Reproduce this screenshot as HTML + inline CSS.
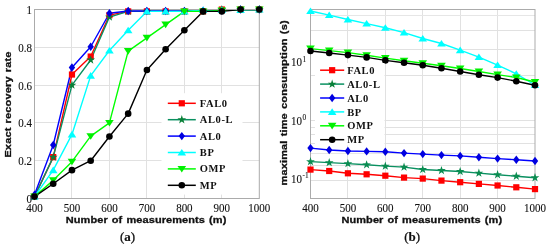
<!DOCTYPE html>
<html><head><meta charset="utf-8"><title>figure</title>
<style>
html,body{margin:0;padding:0;background:#fff}
svg{display:block}
.tk{font-family:"Liberation Serif",serif;font-size:12.8px;fill:#111;stroke:#111;stroke-width:0.12px}
.lg{font-family:"Liberation Serif",serif;font-weight:bold;font-size:10.5px;fill:#111;letter-spacing:0.6px}
.al{font-family:"Liberation Sans",sans-serif;font-weight:bold;font-size:9.7px;fill:#111;stroke:#111;stroke-width:0.3px;letter-spacing:0.14px;word-spacing:0.8px}
.cap{font-family:"Liberation Serif",serif;font-size:13px;fill:#111;stroke:#111;stroke-width:0.3px}
.capb{font-weight:bold;stroke-width:0.15px}
</style></head><body>
<svg width="550" height="249" viewBox="0 0 550 249">
<rect width="550" height="249" fill="#fff"/>
<defs><clipPath id="ca"><rect x="34.5" y="9.5" width="224.80" height="189.0"/></clipPath><clipPath id="cb"><rect x="310.5" y="9.5" width="224.50" height="189.0"/></clipPath></defs>
<line x1="71.50" y1="9.5" x2="71.50" y2="198.5" stroke="#e1e1e1" stroke-width="1"/>
<line x1="109.50" y1="9.5" x2="109.50" y2="198.5" stroke="#e1e1e1" stroke-width="1"/>
<line x1="146.50" y1="9.5" x2="146.50" y2="198.5" stroke="#e1e1e1" stroke-width="1"/>
<line x1="184.50" y1="9.5" x2="184.50" y2="198.5" stroke="#e1e1e1" stroke-width="1"/>
<line x1="221.50" y1="9.5" x2="221.50" y2="198.5" stroke="#e1e1e1" stroke-width="1"/>
<line x1="34.5" y1="160.50" x2="259.3" y2="160.50" stroke="#e1e1e1" stroke-width="1"/>
<line x1="34.5" y1="122.50" x2="259.3" y2="122.50" stroke="#e1e1e1" stroke-width="1"/>
<line x1="34.5" y1="85.50" x2="259.3" y2="85.50" stroke="#e1e1e1" stroke-width="1"/>
<line x1="34.5" y1="47.50" x2="259.3" y2="47.50" stroke="#e1e1e1" stroke-width="1"/>
<line x1="347.50" y1="9.5" x2="347.50" y2="198.5" stroke="#e1e1e1" stroke-width="1"/>
<line x1="385.50" y1="9.5" x2="385.50" y2="198.5" stroke="#e1e1e1" stroke-width="1"/>
<line x1="422.50" y1="9.5" x2="422.50" y2="198.5" stroke="#e1e1e1" stroke-width="1"/>
<line x1="460.50" y1="9.5" x2="460.50" y2="198.5" stroke="#e1e1e1" stroke-width="1"/>
<line x1="497.50" y1="9.5" x2="497.50" y2="198.5" stroke="#e1e1e1" stroke-width="1"/>
<line x1="310.5" y1="15.50" x2="535.0" y2="15.50" stroke="#e6e6e6" stroke-width="1"/>
<line x1="310.5" y1="30.50" x2="535.0" y2="30.50" stroke="#e1e1e1" stroke-width="1"/>
<line x1="310.5" y1="49.50" x2="535.0" y2="49.50" stroke="#e1e1e1" stroke-width="1"/>
<line x1="310.5" y1="75.50" x2="535.0" y2="75.50" stroke="#e1e1e1" stroke-width="1"/>
<line x1="310.5" y1="120.50" x2="535.0" y2="120.50" stroke="#e1e1e1" stroke-width="1"/>
<line x1="310.5" y1="127.50" x2="535.0" y2="127.50" stroke="#e1e1e1" stroke-width="1"/>
<line x1="310.5" y1="134.50" x2="535.0" y2="134.50" stroke="#e1e1e1" stroke-width="1"/>
<line x1="310.5" y1="143.50" x2="535.0" y2="143.50" stroke="#e1e1e1" stroke-width="1"/>
<line x1="310.5" y1="153.50" x2="535.0" y2="153.50" stroke="#e6e6e6" stroke-width="1"/>
<line x1="310.5" y1="165.50" x2="535.0" y2="165.50" stroke="#e1e1e1" stroke-width="1"/>
<line x1="310.5" y1="180.50" x2="535.0" y2="180.50" stroke="#e1e1e1" stroke-width="1"/>
<polyline points="34.50,196.61 53.23,157.11 71.97,74.52 90.70,56.56 109.43,15.17 128.17,11.39 146.90,11.39 165.63,11.39 184.37,11.39 203.10,11.39 221.83,9.50 240.57,9.50 259.30,9.50" fill="none" stroke="#ff0000" stroke-width="1.4" stroke-linejoin="round" clip-path="url(#ca)"/>
<polyline points="34.50,196.61 53.23,157.11 71.97,85.10 90.70,59.96 109.43,17.06 128.17,11.39 146.90,11.39 165.63,11.39 184.37,11.39 203.10,11.39 221.83,9.50 240.57,9.50 259.30,9.50" fill="none" stroke="#0a9060" stroke-width="1.4" stroke-linejoin="round" clip-path="url(#ca)"/>
<polyline points="34.50,194.72 53.23,145.01 71.97,67.52 90.70,46.73 109.43,13.28 128.17,11.01 146.90,11.01 165.63,11.01 184.37,11.01 203.10,10.82 221.83,10.63 240.57,9.50 259.30,9.50" fill="none" stroke="#0000ff" stroke-width="1.4" stroke-linejoin="round" clip-path="url(#ca)"/>
<polyline points="34.50,196.61 53.23,170.15 71.97,134.43 90.70,75.65 109.43,50.51 128.17,30.29 146.90,11.39 165.63,11.39 184.37,11.39 203.10,10.07 221.83,10.07 240.57,10.07 259.30,9.50" fill="none" stroke="#00ffff" stroke-width="1.4" stroke-linejoin="round" clip-path="url(#ca)"/>
<polyline points="34.50,196.61 53.23,180.36 71.97,161.64 90.70,136.13 109.43,122.90 128.17,51.08 146.90,37.85 165.63,24.62 184.37,11.39 203.10,11.39 221.83,10.44 240.57,9.50 259.30,9.50" fill="none" stroke="#00ff00" stroke-width="1.4" stroke-linejoin="round" clip-path="url(#ca)"/>
<polyline points="34.50,196.61 53.23,183.76 71.97,170.15 90.70,160.70 109.43,136.51 128.17,113.64 146.90,69.98 165.63,49.19 184.37,30.29 203.10,11.39 221.83,11.39 240.57,9.50 259.30,9.50" fill="none" stroke="#000000" stroke-width="1.4" stroke-linejoin="round" clip-path="url(#ca)"/>
<polyline points="310.50,169.60 329.21,171.00 347.92,173.30 366.62,174.30 385.33,175.70 404.04,177.60 422.75,178.60 441.46,180.60 460.17,182.20 478.88,183.90 497.58,185.50 516.29,187.30 535.00,189.10" fill="none" stroke="#ff0000" stroke-width="1.4" stroke-linejoin="round" clip-path="url(#cb)"/>
<polyline points="310.50,161.60 329.21,162.60 347.92,163.60 366.62,164.80 385.33,166.10 404.04,167.10 422.75,169.50 441.46,170.50 460.17,171.50 478.88,173.10 497.58,174.70 516.29,176.20 535.00,177.70" fill="none" stroke="#0a9060" stroke-width="1.4" stroke-linejoin="round" clip-path="url(#cb)"/>
<polyline points="310.50,148.10 329.21,150.00 347.92,151.00 366.62,151.40 385.33,151.80 404.04,153.10 422.75,154.10 441.46,155.10 460.17,155.90 478.88,157.30 497.58,158.60 516.29,159.80 535.00,161.00" fill="none" stroke="#0000ff" stroke-width="1.4" stroke-linejoin="round" clip-path="url(#cb)"/>
<polyline points="310.50,11.00 329.21,15.10 347.92,19.50 366.62,23.60 385.33,27.80 404.04,32.60 422.75,38.50 441.46,43.50 460.17,50.20 478.88,57.10 497.58,65.10 516.29,73.80 535.00,85.00" fill="none" stroke="#00ffff" stroke-width="1.4" stroke-linejoin="round" clip-path="url(#cb)"/>
<polyline points="310.50,48.60 329.21,50.60 347.92,52.60 366.62,55.20 385.33,58.10 404.04,60.70 422.75,63.30 441.46,65.80 460.17,68.50 478.88,71.50 497.58,74.60 516.29,77.50 535.00,82.00" fill="none" stroke="#00ff00" stroke-width="1.4" stroke-linejoin="round" clip-path="url(#cb)"/>
<polyline points="310.50,51.00 329.21,53.00 347.92,55.10 366.62,57.40 385.33,60.40 404.04,62.80 422.75,65.20 441.46,68.20 460.17,71.50 478.88,74.70 497.58,77.60 516.29,81.20 535.00,85.20" fill="none" stroke="#000000" stroke-width="1.4" stroke-linejoin="round" clip-path="url(#cb)"/>
<rect x="34.5" y="9.5" width="224.80" height="189.0" fill="none" stroke="#ababab" stroke-width="1"/>
<rect x="310.5" y="9.5" width="224.50" height="189.0" fill="none" stroke="#ababab" stroke-width="1"/>
<rect x="31.40" y="193.51" width="6.2" height="6.2" fill="#ff0000"/>
<rect x="50.13" y="154.01" width="6.2" height="6.2" fill="#ff0000"/>
<rect x="68.87" y="71.42" width="6.2" height="6.2" fill="#ff0000"/>
<rect x="87.60" y="53.46" width="6.2" height="6.2" fill="#ff0000"/>
<rect x="106.33" y="12.07" width="6.2" height="6.2" fill="#ff0000"/>
<rect x="125.07" y="8.29" width="6.2" height="6.2" fill="#ff0000"/>
<rect x="143.80" y="8.29" width="6.2" height="6.2" fill="#ff0000"/>
<rect x="162.53" y="8.29" width="6.2" height="6.2" fill="#ff0000"/>
<rect x="181.27" y="8.29" width="6.2" height="6.2" fill="#ff0000"/>
<rect x="200.00" y="8.29" width="6.2" height="6.2" fill="#ff0000"/>
<rect x="218.73" y="6.40" width="6.2" height="6.2" fill="#ff0000"/>
<rect x="237.47" y="6.40" width="6.2" height="6.2" fill="#ff0000"/>
<rect x="256.20" y="6.40" width="6.2" height="6.2" fill="#ff0000"/>
<path d="M34.50 192.01L35.56 195.15L38.87 195.19L36.21 197.17L37.20 200.33L34.50 198.41L31.80 200.33L32.79 197.17L30.13 195.19L33.44 195.15Z" fill="#0a8038"/>
<path d="M53.23 152.51L54.29 155.65L57.61 155.69L54.95 157.67L55.94 160.83L53.23 158.91L50.53 160.83L51.52 157.67L48.86 155.69L52.18 155.65Z" fill="#0a8038"/>
<path d="M71.97 80.50L73.02 83.64L76.34 83.68L73.68 85.66L74.67 88.82L71.97 86.90L69.26 88.82L70.25 85.66L67.59 83.68L70.91 83.64Z" fill="#0a8038"/>
<path d="M90.70 55.36L91.76 58.51L95.07 58.54L92.41 60.52L93.40 63.68L90.70 61.76L88.00 63.68L88.99 60.52L86.33 58.54L89.64 58.51Z" fill="#0a8038"/>
<path d="M109.43 12.46L110.49 15.60L113.81 15.64L111.15 17.62L112.14 20.78L109.43 18.86L106.73 20.78L107.72 17.62L105.06 15.64L108.38 15.60Z" fill="#0a8038"/>
<path d="M128.17 6.79L129.22 9.93L132.54 9.97L129.88 11.95L130.87 15.11L128.17 13.19L125.46 15.11L126.45 11.95L123.79 9.97L127.11 9.93Z" fill="#0a8038"/>
<path d="M146.90 6.79L147.96 9.93L151.27 9.97L148.61 11.95L149.60 15.11L146.90 13.19L144.20 15.11L145.19 11.95L142.53 9.97L145.84 9.93Z" fill="#0a8038"/>
<path d="M165.63 6.79L166.69 9.93L170.01 9.97L167.35 11.95L168.34 15.11L165.63 13.19L162.93 15.11L163.92 11.95L161.26 9.97L164.58 9.93Z" fill="#0a8038"/>
<path d="M184.37 6.79L185.42 9.93L188.74 9.97L186.08 11.95L187.07 15.11L184.37 13.19L181.66 15.11L182.65 11.95L179.99 9.97L183.31 9.93Z" fill="#0a8038"/>
<path d="M203.10 6.79L204.16 9.93L207.47 9.97L204.81 11.95L205.80 15.11L203.10 13.19L200.40 15.11L201.39 11.95L198.73 9.97L202.04 9.93Z" fill="#0a8038"/>
<path d="M221.83 4.90L222.89 8.04L226.21 8.08L223.55 10.06L224.54 13.22L221.83 11.30L219.13 13.22L220.12 10.06L217.46 8.08L220.78 8.04Z" fill="#0a8038"/>
<path d="M240.57 4.90L241.62 8.04L244.94 8.08L242.28 10.06L243.27 13.22L240.57 11.30L237.86 13.22L238.85 10.06L236.19 8.08L239.51 8.04Z" fill="#0a8038"/>
<path d="M259.30 4.90L260.36 8.04L263.67 8.08L261.01 10.06L262.00 13.22L259.30 11.30L256.60 13.22L257.59 10.06L254.93 8.08L258.24 8.04Z" fill="#0a8038"/>
<path d="M34.50 190.52L37.70 194.72L34.50 198.92L31.30 194.72Z" fill="#0000e0"/>
<path d="M53.23 140.81L56.43 145.01L53.23 149.21L50.03 145.01Z" fill="#0000e0"/>
<path d="M71.97 63.32L75.17 67.52L71.97 71.72L68.77 67.52Z" fill="#0000e0"/>
<path d="M90.70 42.53L93.90 46.73L90.70 50.93L87.50 46.73Z" fill="#0000e0"/>
<path d="M109.43 9.08L112.63 13.28L109.43 17.48L106.23 13.28Z" fill="#0000e0"/>
<path d="M128.17 6.81L131.37 11.01L128.17 15.21L124.97 11.01Z" fill="#0000e0"/>
<path d="M146.90 6.81L150.10 11.01L146.90 15.21L143.70 11.01Z" fill="#0000e0"/>
<path d="M165.63 6.81L168.83 11.01L165.63 15.21L162.43 11.01Z" fill="#0000e0"/>
<path d="M184.37 6.81L187.57 11.01L184.37 15.21L181.17 11.01Z" fill="#0000e0"/>
<path d="M203.10 6.62L206.30 10.82L203.10 15.02L199.90 10.82Z" fill="#0000e0"/>
<path d="M221.83 6.43L225.03 10.63L221.83 14.83L218.63 10.63Z" fill="#0000e0"/>
<path d="M240.57 5.30L243.77 9.50L240.57 13.70L237.37 9.50Z" fill="#0000e0"/>
<path d="M259.30 5.30L262.50 9.50L259.30 13.70L256.10 9.50Z" fill="#0000e0"/>
<path d="M34.50 193.01L38.80 199.61L30.20 199.61Z" fill="#00ffff"/>
<path d="M53.23 166.55L57.53 173.15L48.93 173.15Z" fill="#00ffff"/>
<path d="M71.97 130.83L76.27 137.43L67.67 137.43Z" fill="#00ffff"/>
<path d="M90.70 72.05L95.00 78.65L86.40 78.65Z" fill="#00ffff"/>
<path d="M109.43 46.91L113.73 53.51L105.13 53.51Z" fill="#00ffff"/>
<path d="M128.17 26.69L132.47 33.29L123.87 33.29Z" fill="#00ffff"/>
<path d="M146.90 7.79L151.20 14.39L142.60 14.39Z" fill="#00ffff"/>
<path d="M165.63 7.79L169.93 14.39L161.33 14.39Z" fill="#00ffff"/>
<path d="M184.37 7.79L188.67 14.39L180.07 14.39Z" fill="#00ffff"/>
<path d="M203.10 6.47L207.40 13.07L198.80 13.07Z" fill="#00ffff"/>
<path d="M221.83 6.47L226.13 13.07L217.53 13.07Z" fill="#00ffff"/>
<path d="M240.57 6.47L244.87 13.07L236.27 13.07Z" fill="#00ffff"/>
<path d="M259.30 5.90L263.60 12.50L255.00 12.50Z" fill="#00ffff"/>
<path d="M34.50 200.21L38.80 193.61L30.20 193.61Z" fill="#00f000"/>
<path d="M53.23 183.96L57.53 177.36L48.93 177.36Z" fill="#00f000"/>
<path d="M71.97 165.24L76.27 158.64L67.67 158.64Z" fill="#00f000"/>
<path d="M90.70 139.73L95.00 133.13L86.40 133.13Z" fill="#00f000"/>
<path d="M109.43 126.50L113.73 119.90L105.13 119.90Z" fill="#00f000"/>
<path d="M128.17 54.68L132.47 48.08L123.87 48.08Z" fill="#00f000"/>
<path d="M146.90 41.45L151.20 34.85L142.60 34.85Z" fill="#00f000"/>
<path d="M165.63 28.22L169.93 21.62L161.33 21.62Z" fill="#00f000"/>
<path d="M184.37 14.99L188.67 8.39L180.07 8.39Z" fill="#00f000"/>
<path d="M203.10 14.99L207.40 8.39L198.80 8.39Z" fill="#00f000"/>
<path d="M221.83 14.04L226.13 7.44L217.53 7.44Z" fill="#00f000"/>
<path d="M240.57 13.10L244.87 6.50L236.27 6.50Z" fill="#00f000"/>
<path d="M259.30 13.10L263.60 6.50L255.00 6.50Z" fill="#00f000"/>
<circle cx="34.50" cy="196.61" r="3.3" fill="#000000"/>
<circle cx="53.23" cy="183.76" r="3.3" fill="#000000"/>
<circle cx="71.97" cy="170.15" r="3.3" fill="#000000"/>
<circle cx="90.70" cy="160.70" r="3.3" fill="#000000"/>
<circle cx="109.43" cy="136.51" r="3.3" fill="#000000"/>
<circle cx="128.17" cy="113.64" r="3.3" fill="#000000"/>
<circle cx="146.90" cy="69.98" r="3.3" fill="#000000"/>
<circle cx="165.63" cy="49.19" r="3.3" fill="#000000"/>
<circle cx="184.37" cy="30.29" r="3.3" fill="#000000"/>
<circle cx="203.10" cy="11.39" r="3.3" fill="#000000"/>
<circle cx="221.83" cy="11.39" r="3.3" fill="#000000"/>
<circle cx="240.57" cy="9.50" r="3.3" fill="#000000"/>
<circle cx="259.30" cy="9.50" r="3.3" fill="#000000"/>
<rect x="307.40" y="166.50" width="6.2" height="6.2" fill="#ff0000"/>
<rect x="326.11" y="167.90" width="6.2" height="6.2" fill="#ff0000"/>
<rect x="344.82" y="170.20" width="6.2" height="6.2" fill="#ff0000"/>
<rect x="363.52" y="171.20" width="6.2" height="6.2" fill="#ff0000"/>
<rect x="382.23" y="172.60" width="6.2" height="6.2" fill="#ff0000"/>
<rect x="400.94" y="174.50" width="6.2" height="6.2" fill="#ff0000"/>
<rect x="419.65" y="175.50" width="6.2" height="6.2" fill="#ff0000"/>
<rect x="438.36" y="177.50" width="6.2" height="6.2" fill="#ff0000"/>
<rect x="457.07" y="179.10" width="6.2" height="6.2" fill="#ff0000"/>
<rect x="475.77" y="180.80" width="6.2" height="6.2" fill="#ff0000"/>
<rect x="494.48" y="182.40" width="6.2" height="6.2" fill="#ff0000"/>
<rect x="513.19" y="184.20" width="6.2" height="6.2" fill="#ff0000"/>
<rect x="531.90" y="186.00" width="6.2" height="6.2" fill="#ff0000"/>
<path d="M310.50 157.00L311.56 160.14L314.87 160.18L312.21 162.16L313.20 165.32L310.50 163.40L307.80 165.32L308.79 162.16L306.13 160.18L309.44 160.14Z" fill="#0a8c50"/>
<path d="M329.21 158.00L330.27 161.14L333.58 161.18L330.92 163.16L331.91 166.32L329.21 164.40L326.50 166.32L327.50 163.16L324.83 161.18L328.15 161.14Z" fill="#0a8c50"/>
<path d="M347.92 159.00L348.97 162.14L352.29 162.18L349.63 164.16L350.62 167.32L347.92 165.40L345.21 167.32L346.20 164.16L343.54 162.18L346.86 162.14Z" fill="#0a8c50"/>
<path d="M366.62 160.20L367.68 163.34L371.00 163.38L368.34 165.36L369.33 168.52L366.62 166.60L363.92 168.52L364.91 165.36L362.25 163.38L365.57 163.34Z" fill="#0a8c50"/>
<path d="M385.33 161.50L386.39 164.64L389.71 164.68L387.05 166.66L388.04 169.82L385.33 167.90L382.63 169.82L383.62 166.66L380.96 164.68L384.28 164.64Z" fill="#0a8c50"/>
<path d="M404.04 162.50L405.10 165.64L408.42 165.68L405.75 167.66L406.75 170.82L404.04 168.90L401.34 170.82L402.33 167.66L399.67 165.68L402.98 165.64Z" fill="#0a8c50"/>
<path d="M422.75 164.90L423.81 168.04L427.12 168.08L424.46 170.06L425.45 173.22L422.75 171.30L420.05 173.22L421.04 170.06L418.38 168.08L421.69 168.04Z" fill="#0a8c50"/>
<path d="M441.46 165.90L442.52 169.04L445.83 169.08L443.17 171.06L444.16 174.22L441.46 172.30L438.75 174.22L439.75 171.06L437.08 169.08L440.40 169.04Z" fill="#0a8c50"/>
<path d="M460.17 166.90L461.22 170.04L464.54 170.08L461.88 172.06L462.87 175.22L460.17 173.30L457.46 175.22L458.45 172.06L455.79 170.08L459.11 170.04Z" fill="#0a8c50"/>
<path d="M478.88 168.50L479.93 171.64L483.25 171.68L480.59 173.66L481.58 176.82L478.88 174.90L476.17 176.82L477.16 173.66L474.50 171.68L477.82 171.64Z" fill="#0a8c50"/>
<path d="M497.58 170.10L498.64 173.24L501.96 173.28L499.30 175.26L500.29 178.42L497.58 176.50L494.88 178.42L495.87 175.26L493.21 173.28L496.53 173.24Z" fill="#0a8c50"/>
<path d="M516.29 171.60L517.35 174.74L520.67 174.78L518.00 176.76L519.00 179.92L516.29 178.00L513.59 179.92L514.58 176.76L511.92 174.78L515.23 174.74Z" fill="#0a8c50"/>
<path d="M535.00 173.10L536.06 176.24L539.37 176.28L536.71 178.26L537.70 181.42L535.00 179.50L532.30 181.42L533.29 178.26L530.63 176.28L533.94 176.24Z" fill="#0a8c50"/>
<path d="M310.50 143.90L313.70 148.10L310.50 152.30L307.30 148.10Z" fill="#0000e0"/>
<path d="M329.21 145.80L332.41 150.00L329.21 154.20L326.01 150.00Z" fill="#0000e0"/>
<path d="M347.92 146.80L351.12 151.00L347.92 155.20L344.72 151.00Z" fill="#0000e0"/>
<path d="M366.62 147.20L369.82 151.40L366.62 155.60L363.43 151.40Z" fill="#0000e0"/>
<path d="M385.33 147.60L388.53 151.80L385.33 156.00L382.13 151.80Z" fill="#0000e0"/>
<path d="M404.04 148.90L407.24 153.10L404.04 157.30L400.84 153.10Z" fill="#0000e0"/>
<path d="M422.75 149.90L425.95 154.10L422.75 158.30L419.55 154.10Z" fill="#0000e0"/>
<path d="M441.46 150.90L444.66 155.10L441.46 159.30L438.26 155.10Z" fill="#0000e0"/>
<path d="M460.17 151.70L463.37 155.90L460.17 160.10L456.97 155.90Z" fill="#0000e0"/>
<path d="M478.88 153.10L482.07 157.30L478.88 161.50L475.68 157.30Z" fill="#0000e0"/>
<path d="M497.58 154.40L500.78 158.60L497.58 162.80L494.38 158.60Z" fill="#0000e0"/>
<path d="M516.29 155.60L519.49 159.80L516.29 164.00L513.09 159.80Z" fill="#0000e0"/>
<path d="M535.00 156.80L538.20 161.00L535.00 165.20L531.80 161.00Z" fill="#0000e0"/>
<path d="M310.50 7.40L314.80 14.00L306.20 14.00Z" fill="#00ffff"/>
<path d="M329.21 11.50L333.51 18.10L324.91 18.10Z" fill="#00ffff"/>
<path d="M347.92 15.90L352.22 22.50L343.62 22.50Z" fill="#00ffff"/>
<path d="M366.62 20.00L370.93 26.60L362.32 26.60Z" fill="#00ffff"/>
<path d="M385.33 24.20L389.63 30.80L381.03 30.80Z" fill="#00ffff"/>
<path d="M404.04 29.00L408.34 35.60L399.74 35.60Z" fill="#00ffff"/>
<path d="M422.75 34.90L427.05 41.50L418.45 41.50Z" fill="#00ffff"/>
<path d="M441.46 39.90L445.76 46.50L437.16 46.50Z" fill="#00ffff"/>
<path d="M460.17 46.60L464.47 53.20L455.87 53.20Z" fill="#00ffff"/>
<path d="M478.88 53.50L483.18 60.10L474.57 60.10Z" fill="#00ffff"/>
<path d="M497.58 61.50L501.88 68.10L493.28 68.10Z" fill="#00ffff"/>
<path d="M516.29 70.20L520.59 76.80L511.99 76.80Z" fill="#00ffff"/>
<path d="M535.00 81.40L539.30 88.00L530.70 88.00Z" fill="#00ffff"/>
<path d="M310.50 52.20L314.80 45.60L306.20 45.60Z" fill="#00f000"/>
<path d="M329.21 54.20L333.51 47.60L324.91 47.60Z" fill="#00f000"/>
<path d="M347.92 56.20L352.22 49.60L343.62 49.60Z" fill="#00f000"/>
<path d="M366.62 58.80L370.93 52.20L362.32 52.20Z" fill="#00f000"/>
<path d="M385.33 61.70L389.63 55.10L381.03 55.10Z" fill="#00f000"/>
<path d="M404.04 64.30L408.34 57.70L399.74 57.70Z" fill="#00f000"/>
<path d="M422.75 66.90L427.05 60.30L418.45 60.30Z" fill="#00f000"/>
<path d="M441.46 69.40L445.76 62.80L437.16 62.80Z" fill="#00f000"/>
<path d="M460.17 72.10L464.47 65.50L455.87 65.50Z" fill="#00f000"/>
<path d="M478.88 75.10L483.18 68.50L474.57 68.50Z" fill="#00f000"/>
<path d="M497.58 78.20L501.88 71.60L493.28 71.60Z" fill="#00f000"/>
<path d="M516.29 81.10L520.59 74.50L511.99 74.50Z" fill="#00f000"/>
<path d="M535.00 85.60L539.30 79.00L530.70 79.00Z" fill="#00f000"/>
<circle cx="310.50" cy="51.00" r="3.3" fill="#000000"/>
<circle cx="329.21" cy="53.00" r="3.3" fill="#000000"/>
<circle cx="347.92" cy="55.10" r="3.3" fill="#000000"/>
<circle cx="366.62" cy="57.40" r="3.3" fill="#000000"/>
<circle cx="385.33" cy="60.40" r="3.3" fill="#000000"/>
<circle cx="404.04" cy="62.80" r="3.3" fill="#000000"/>
<circle cx="422.75" cy="65.20" r="3.3" fill="#000000"/>
<circle cx="441.46" cy="68.20" r="3.3" fill="#000000"/>
<circle cx="460.17" cy="71.50" r="3.3" fill="#000000"/>
<circle cx="478.88" cy="74.70" r="3.3" fill="#000000"/>
<circle cx="497.58" cy="77.60" r="3.3" fill="#000000"/>
<circle cx="516.29" cy="81.20" r="3.3" fill="#000000"/>
<circle cx="535.00" cy="85.20" r="3.3" fill="#000000"/>
<rect x="161.5" y="93.2" width="81.0" height="101.39999999999999" fill="#fff"/>
<line x1="167.8" y1="103.30" x2="195.8" y2="103.30" stroke="#ff0000" stroke-width="1.5"/>
<rect x="178.70" y="100.20" width="6.2" height="6.2" fill="#ff0000"/>
<text x="199.8" y="106.70" class="lg">FAL0</text>
<line x1="167.8" y1="119.70" x2="195.8" y2="119.70" stroke="#0a9060" stroke-width="1.5"/>
<path d="M181.80 115.10L182.86 118.24L186.17 118.28L183.51 120.26L184.50 123.42L181.80 121.50L179.10 123.42L180.09 120.26L177.43 118.28L180.74 118.24Z" fill="#0a8038"/>
<text x="199.8" y="123.10" class="lg">AL0-L</text>
<line x1="167.8" y1="136.10" x2="195.8" y2="136.10" stroke="#0000ff" stroke-width="1.5"/>
<path d="M181.80 131.90L185.00 136.10L181.80 140.30L178.60 136.10Z" fill="#0000e0"/>
<text x="199.8" y="139.50" class="lg">AL0</text>
<line x1="167.8" y1="152.50" x2="195.8" y2="152.50" stroke="#00ffff" stroke-width="1.5"/>
<path d="M181.80 148.90L186.10 155.50L177.50 155.50Z" fill="#00ffff"/>
<text x="199.8" y="155.90" class="lg">BP</text>
<line x1="167.8" y1="168.90" x2="195.8" y2="168.90" stroke="#00ff00" stroke-width="1.5"/>
<path d="M181.80 172.50L186.10 165.90L177.50 165.90Z" fill="#00f000"/>
<text x="199.8" y="172.30" class="lg">OMP</text>
<line x1="167.8" y1="185.30" x2="195.8" y2="185.30" stroke="#000000" stroke-width="1.5"/>
<circle cx="181.80" cy="185.30" r="3.3" fill="#000000"/>
<text x="199.8" y="188.70" class="lg">MP</text>
<rect x="315" y="63" width="69.5" height="82.5" fill="#fff"/>
<line x1="320.1" y1="70.20" x2="344.2" y2="70.20" stroke="#ff0000" stroke-width="1.5"/>
<rect x="329.05" y="67.10" width="6.2" height="6.2" fill="#ff0000"/>
<text x="347.2" y="73.80" class="lg">FAL0</text>
<line x1="320.1" y1="84.10" x2="344.2" y2="84.10" stroke="#0a9060" stroke-width="1.5"/>
<path d="M332.15 79.50L333.21 82.64L336.52 82.68L333.86 84.66L334.85 87.82L332.15 85.90L329.45 87.82L330.44 84.66L327.78 82.68L331.09 82.64Z" fill="#0a8038"/>
<text x="347.2" y="87.70" class="lg">AL0-L</text>
<line x1="320.1" y1="98.00" x2="344.2" y2="98.00" stroke="#0000ff" stroke-width="1.5"/>
<path d="M332.15 93.80L335.35 98.00L332.15 102.20L328.95 98.00Z" fill="#0000e0"/>
<text x="347.2" y="101.60" class="lg">AL0</text>
<line x1="320.1" y1="111.90" x2="344.2" y2="111.90" stroke="#00ffff" stroke-width="1.5"/>
<path d="M332.15 108.30L336.45 114.90L327.85 114.90Z" fill="#00ffff"/>
<text x="347.2" y="115.50" class="lg">BP</text>
<line x1="320.1" y1="125.80" x2="344.2" y2="125.80" stroke="#00ff00" stroke-width="1.5"/>
<path d="M332.15 129.40L336.45 122.80L327.85 122.80Z" fill="#00f000"/>
<text x="347.2" y="129.40" class="lg">OMP</text>
<line x1="320.1" y1="139.70" x2="344.2" y2="139.70" stroke="#000000" stroke-width="1.5"/>
<circle cx="332.15" cy="139.70" r="3.3" fill="#000000"/>
<text x="347.2" y="143.30" class="lg">MP</text>
<text transform="translate(34.50 211.5) scale(0.86 1)" class="tk" text-anchor="middle">400</text>
<text transform="translate(310.50 211.5) scale(0.86 1)" class="tk" text-anchor="middle">400</text>
<text transform="translate(71.97 211.5) scale(0.86 1)" class="tk" text-anchor="middle">500</text>
<text transform="translate(347.92 211.5) scale(0.86 1)" class="tk" text-anchor="middle">500</text>
<text transform="translate(109.43 211.5) scale(0.86 1)" class="tk" text-anchor="middle">600</text>
<text transform="translate(385.33 211.5) scale(0.86 1)" class="tk" text-anchor="middle">600</text>
<text transform="translate(146.90 211.5) scale(0.86 1)" class="tk" text-anchor="middle">700</text>
<text transform="translate(422.75 211.5) scale(0.86 1)" class="tk" text-anchor="middle">700</text>
<text transform="translate(184.37 211.5) scale(0.86 1)" class="tk" text-anchor="middle">800</text>
<text transform="translate(460.17 211.5) scale(0.86 1)" class="tk" text-anchor="middle">800</text>
<text transform="translate(221.83 211.5) scale(0.86 1)" class="tk" text-anchor="middle">900</text>
<text transform="translate(497.58 211.5) scale(0.86 1)" class="tk" text-anchor="middle">900</text>
<text transform="translate(259.30 211.5) scale(0.86 1)" class="tk" text-anchor="middle">1000</text>
<text transform="translate(535.00 211.5) scale(0.86 1)" class="tk" text-anchor="middle">1000</text>
<text transform="translate(32.0 203.00) scale(0.86 1)" class="tk" text-anchor="end">0</text>
<text transform="translate(32.0 165.20) scale(0.86 1)" class="tk" text-anchor="end">0.2</text>
<text transform="translate(32.0 127.40) scale(0.86 1)" class="tk" text-anchor="end">0.4</text>
<text transform="translate(32.0 89.60) scale(0.86 1)" class="tk" text-anchor="end">0.6</text>
<text transform="translate(32.0 51.80) scale(0.86 1)" class="tk" text-anchor="end">0.8</text>
<text transform="translate(32.0 14.00) scale(0.86 1)" class="tk" text-anchor="end">1</text>
<text transform="translate(291.0 66.20) scale(0.86 1)" class="tk">10<tspan dx="0.6" dy="-4.3" font-size="8.5">1</tspan></text>
<text transform="translate(291.0 124.60) scale(0.86 1)" class="tk">10<tspan dx="0.6" dy="-4.3" font-size="8.5">0</tspan></text>
<text transform="translate(291.0 182.60) scale(0.86 1)" class="tk">10<tspan dx="0.6" dy="-4.3" font-size="8.5">-1</tspan></text>
<text transform="translate(146.1 222.7) scale(1.134 1)" class="al" style="letter-spacing:0.08px" text-anchor="middle">Number of measurements (m)</text>
<text transform="translate(421.8 222.7) scale(1.134 1)" class="al" style="letter-spacing:0.08px" text-anchor="middle">Number of measurements (m)</text>
<text transform="translate(11.2 104.5) rotate(-90) scale(1.134 1)" class="al" text-anchor="middle">Exact recovery rate</text>
<text transform="translate(287 102.9) rotate(-90) scale(1.134 1)" class="al" text-anchor="middle">maximal time consumption (s)</text>
<text x="127.6" y="241.0" class="cap" text-anchor="middle">(<tspan class="capb">a</tspan>)</text>
<text x="412.2" y="241.2" class="cap" text-anchor="middle">(<tspan class="capb">b</tspan>)</text>
</svg>
</body></html>
